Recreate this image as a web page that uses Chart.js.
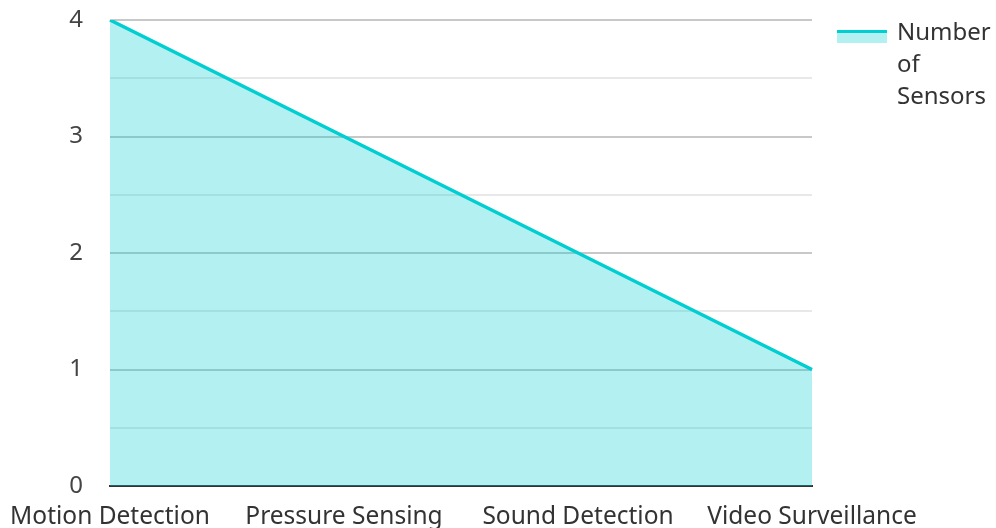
<!DOCTYPE html>
<html>
<head>
<meta charset="utf-8">
<script src="https://cdn.jsdelivr.net/npm/chart.js@4"></script>
<style>
  html, body { margin: 0; padding: 0; background: #fff; }
  #wrap { width: 996px; height: 528px; }
</style>
</head>
<body>
<div id="wrap"><canvas id="chart"></canvas></div>
<script>
const categories = ["Motion Detection", "Pressure Sensing", "Sound Detection", "Video Surveillance"];
const sensorCounts = [4, 3, 2, 1];
const seriesLabel = "Number of Sensors";

const FONT = "'Noto Sans', sans-serif";
const lineColor = "#00CED1";
const fillColor = "rgba(0, 206, 209, 0.3)";

// legend drawn by hand: line on top, fill below, text wrapped into a narrow column
const sideLegend = {
  id: "sideLegend",
  afterDraw(chart) {
    const ctx = chart.ctx;
    const ds = chart.data.datasets[0];
    const x0 = 837, y0 = 30, w = 50, h = 13;
    ctx.save();
    ctx.fillStyle = ds.backgroundColor;
    ctx.fillRect(x0, y0, w, h);
    ctx.fillStyle = ds.borderColor;
    ctx.fillRect(x0, y0, w, 3);

    ctx.font = "24px " + FONT;
    ctx.fillStyle = "#333";
    ctx.textBaseline = "alphabetic";
    const maxW = 996 - 897;
    const words = ds.label.split(" ");
    const lines = [];
    let cur = "";
    words.forEach((wd) => {
      const test = cur ? cur + " " + wd : wd;
      if (cur && ctx.measureText(test).width > maxW) {
        lines.push(cur);
        cur = wd;
      } else {
        cur = test;
      }
    });
    if (cur) lines.push(cur);
    lines.forEach((ln, i) => {
      ctx.fillText(ln, 897, 40 + i * 32);
    });
    ctx.restore();
  },
};

new Chart("chart", {
  type: "line",
  data: {
    labels: categories,
    datasets: [
      {
        label: seriesLabel,
        data: sensorCounts,
        borderColor: lineColor,
        backgroundColor: fillColor,
        borderWidth: 3.5,
        fill: "origin",
        pointRadius: 0,
        tension: 0,
      },
    ],
  },
  plugins: [sideLegend],
  options: {
    responsive: true,
    maintainAspectRatio: false,
    animation: false,
    layout: { padding: { top: 20, right: 184, left: 0, bottom: 0 } },
    plugins: {
      legend: { display: false },
      tooltip: { enabled: false },
    },
    scales: {
      x: {
        offset: false,
        grid: { display: false },
        border: { display: true, color: "#333", width: 2 },
        ticks: {
          color: "#333",
          font: { family: FONT, size: 24.5 },
          padding: 8,
          maxRotation: 0,
          autoSkip: false,
        },
        afterFit: (s) => { s.height = 42; },
      },
      y: {
        min: 0,
        max: 4,
        border: { display: false },
        grid: {
          drawTicks: false,
          color: (c) => (Number.isInteger(c.tick.value) ? "#c8c8c8" : "#e8e8e8"),
          lineWidth: 2,
        },
        ticks: {
          stepSize: 0.5,
          color: "#444",
          padding: 27,
          font: { family: FONT, size: 24 },
          callback: (v) => (Number.isInteger(v) ? v : ""),
        },
        afterFit: (s) => {
          s.width = 110;
          s.paddingTop = 0;
          s.paddingBottom = 0;
        },
      },
    },
  },
});
</script>
</body>
</html>
